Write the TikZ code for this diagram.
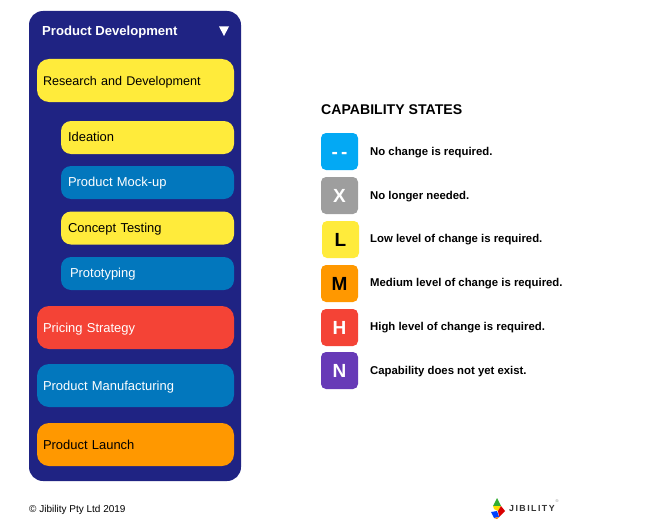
\documentclass[tikz,border=0pt]{standalone}
\usepackage{fontspec}
\setmainfont{Liberation Sans}
\definecolor{navy}{HTML}{1F2383}
\definecolor{capblue}{HTML}{0277BD}
\definecolor{capsky}{HTML}{03A9F4}
\definecolor{capgrey}{HTML}{9E9E9E}
\definecolor{capyellow}{HTML}{FFEB3B}
\definecolor{caporange}{HTML}{FF9800}
\definecolor{capred}{HTML}{F44336}
\definecolor{cappurple}{HTML}{673AB7}
\tikzset{
  capbox/.style={rounded corners=12pt, minimum width=197pt, minimum height=43pt, text width=185pt, inner sep=0pt, align=left, text height=9.3pt, text depth=0pt, font=\fontsize{12.95}{15}\selectfont},
  subbox/.style={capbox, rounded corners=10pt, minimum width=173pt, minimum height=33pt, text width=159pt, text depth=1pt},
  statebox/.style={rounded corners=5pt, minimum width=37pt, minimum height=37pt, inner sep=0pt, text height=13.6pt, text depth=0pt, font=\fontsize{19}{22}\selectfont\bfseries},
  statetext/.style={anchor=west, inner sep=0pt, text height=8.3pt, text depth=0pt, font=\fontsize{11.35}{14}\selectfont\bfseries},
}
\begin{document}
\begin{tikzpicture}[x=1pt,y=-1pt]
\useasboundingbox (0,0) rectangle (650,519);

\node [fill=navy, rounded corners=14pt, minimum width=212pt, minimum height=470pt, inner sep=0pt] (panel) at (135,246) {};
\node [anchor=west, inner sep=0pt, text=white, text height=9.5pt, text depth=0pt, font=\fontsize{13.1}{17}\selectfont\bfseries] (title) at (42,30.5) {Product Development};
\fill [white] (219,26.5) -- (229,26.5) -- (224,36) -- cycle;

\node [capbox, fill=capyellow, font=\fontsize{12.6}{15}\selectfont] (research) at (135.5,80.5) {Research and Development};
\node [subbox, fill=capyellow] (ideation) at (147.5,137.5) {Ideation};
\node [subbox, fill=capblue, text=white] (mockup) at (147.5,182.5) {Product Mock-up};
\node [subbox, fill=capyellow] (testing) at (147.5,228) {Concept Testing};
\node [subbox, fill=capblue, text=white, text width=155pt] (proto) at (147.5,273.5) {Prototyping};
\node [capbox, fill=capred, text=white] (pricing) at (135.5,327.5) {Pricing Strategy};
\node [capbox, fill=capblue, text=white] (manufacturing) at (135.5,385.5) {Product Manufacturing};
\node [capbox, fill=caporange] (launch) at (135.5,444.5) {Product Launch};

\node [anchor=west, inner sep=0pt, text height=10.2pt, text depth=0pt, font=\fontsize{14.1}{17}\selectfont\bfseries] (heading) at (321,109) {CAPABILITY STATES};

\node [statebox, fill=capsky, text=white] (s1) at (339.5,151.5) {-\,-};
\node [statebox, fill=capgrey, text=white] (s2) at (339.5,195.5) {X};
\node [statebox, fill=capyellow] (s3) at (340.5,239.5) {L};
\node [statebox, fill=caporange] (s4) at (339.5,283.5) {M};
\node [statebox, fill=capred, text=white] (s5) at (339.5,327.5) {H};
\node [statebox, fill=cappurple, text=white] (s6) at (339.5,370.5) {N};

\node [statetext] (t1) at (370,151.3) {No change is required.};
\node [statetext] (t2) at (370,195.3) {No longer needed.};
\node [statetext] (t3) at (370,238.5) {Low level of change is required.};
\node [statetext] (t4) at (370,282.5) {Medium level of change is required.};
\node [statetext] (t5) at (370,326.5) {High level of change is required.};
\node [statetext] (t6) at (370,370.5) {Capability does not yet exist.};

\node [anchor=west, inner sep=0pt, text height=7.2pt, text depth=0pt, font=\fontsize{10}{12}\selectfont] (copyright) at (29,508.5) {© Jibility Pty Ltd 2019};

% logo
\fill [green!60!black!80] (497,498) -- (493,506) -- (501,506) -- cycle;
\fill [yellow!80!orange] (493,506) -- (501,506) -- (498,511) -- (494,509) -- cycle;
\fill [red!85!black] (501,506) -- (505,511) -- (499,517) -- (498,511) -- cycle;
\fill [blue!75!cyan] (491,512) -- (497,511) -- (499,517) -- (494,518) -- cycle;
\fill [orange] (494,518) -- (499,517) -- (497,519) -- cycle;
\node [anchor=west, inner sep=0pt, text=black!80, text height=6.3pt, text depth=0pt, font=\fontsize{8.8}{10}\selectfont\bfseries] (brand) at (509,508) {J\,I\,B\,I\,L\,I\,T\,Y};
\node [inner sep=0pt, text=black!45, font=\fontsize{4}{5}\selectfont] (mark) at (557,501.5) {®};
\end{tikzpicture}
\end{document}
